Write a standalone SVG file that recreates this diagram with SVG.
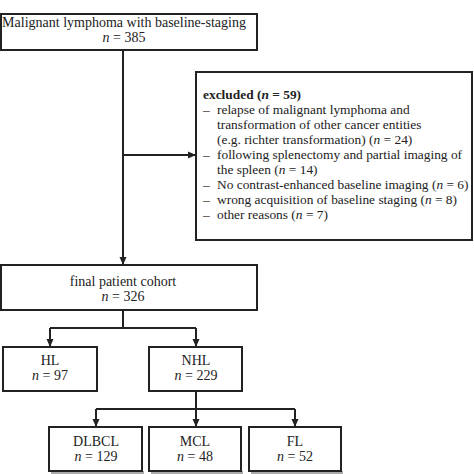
<svg xmlns="http://www.w3.org/2000/svg" width="474" height="474" viewBox="0 0 474 474">
<style>
.box{fill:#fff;stroke:#222;stroke-width:2}
.sh{fill:#aaa}
text{font-family:"Liberation Serif","Times New Roman",serif;font-size:14px;fill:#222}
.ex text{font-size:13.4px}
.c{text-anchor:middle}
.ln{fill:none;stroke:#222;stroke-width:2}
</style>
<defs>
<marker id="ah" markerWidth="8" markerHeight="8" refX="7" refY="4" orient="auto" markerUnits="userSpaceOnUse">
<path d="M0,0.5 L8,4 L0,7.5 Z" fill="#222"/>
</marker>
</defs>
<rect width="474" height="474" fill="#fff"/>
<g id="connectors">
<path class="ln" d="M123,50 V264" marker-end="url(#ah)"/>
<path class="ln" d="M123,155 H195" marker-end="url(#ah)"/>
<path class="ln" d="M123,310 V328 M50,328 H196"/>
<path class="ln" d="M50,328 V346" marker-end="url(#ah)"/>
<path class="ln" d="M196,328 V346" marker-end="url(#ah)"/>
<path class="ln" d="M196,391 V409 M96,409 H295"/>
<path class="ln" d="M96,409 V426" marker-end="url(#ah)"/>
<path class="ln" d="M196,409 V426" marker-end="url(#ah)"/>
<path class="ln" d="M295,409 V426" marker-end="url(#ah)"/>
</g>
<g id="n-start">
<rect class="box" x="1" y="14" width="256" height="36"/>
<text class="c" x="124" y="27">Malignant lymphoma with baseline-staging</text>
<text class="c" x="124" y="42"><tspan font-style="italic">n</tspan> = 385</text>
</g>
<g id="n-excluded" class="ex">
<rect class="box" x="196" y="72" width="276" height="168"/>
<text x="203" y="99" font-weight="bold">excluded (<tspan font-style="italic">n</tspan> = 59)</text>
<text x="203" y="114">–</text><text x="217" y="114">relapse of malignant lymphoma and</text>
<text x="217" y="129">transformation of other cancer entities</text>
<text x="217" y="144">(e.g. richter transformation) (<tspan font-style="italic">n</tspan> = 24)</text>
<text x="203" y="159">–</text><text x="217" y="159">following splenectomy and partial imaging of</text>
<text x="217" y="174">the spleen (<tspan font-style="italic">n</tspan> = 14)</text>
<text x="203" y="189">–</text><text x="217" y="189">No contrast-enhanced baseline imaging (<tspan font-style="italic">n</tspan> = 6)</text>
<text x="203" y="204">–</text><text x="217" y="204">wrong acquisition of baseline staging (<tspan font-style="italic">n</tspan> = 8)</text>
<text x="203" y="219">–</text><text x="217" y="219">other reasons (<tspan font-style="italic">n</tspan> = 7)</text>
</g>
<g id="n-final">
<rect class="box" x="1" y="265" width="256" height="45"/>
<text class="c" x="123" y="286">final patient cohort</text>
<text class="c" x="123" y="301"><tspan font-style="italic">n</tspan> = 326</text>
</g>
<g id="n-hl">
<rect class="box" x="3" y="347" width="94" height="44"/>
<text class="c" x="50" y="365">HL</text>
<text class="c" x="50" y="380"><tspan font-style="italic">n</tspan> = 97</text>
</g>
<g id="n-nhl">
<rect class="box" x="149" y="347" width="93" height="44"/>
<text class="c" x="196" y="365">NHL</text>
<text class="c" x="196" y="380"><tspan font-style="italic">n</tspan> = 229</text>
</g>
<g id="n-dlbcl">
<rect class="sh" x="51" y="471" width="93" height="3"/>
<rect class="box" x="49" y="427" width="93" height="44"/>
<text class="c" x="96" y="446">DLBCL</text>
<text class="c" x="96" y="461"><tspan font-style="italic">n</tspan> = 129</text>
</g>
<g id="n-mcl">
<rect class="sh" x="151" y="471" width="92" height="3"/>
<rect class="box" x="149" y="427" width="92" height="44"/>
<text class="c" x="195" y="446">MCL</text>
<text class="c" x="195" y="461"><tspan font-style="italic">n</tspan> = 48</text>
</g>
<g id="n-fl">
<rect class="sh" x="251" y="471" width="92" height="3"/>
<rect class="box" x="249" y="427" width="92" height="44"/>
<text class="c" x="295" y="446">FL</text>
<text class="c" x="295" y="461"><tspan font-style="italic">n</tspan> = 52</text>
</g>
</svg>
